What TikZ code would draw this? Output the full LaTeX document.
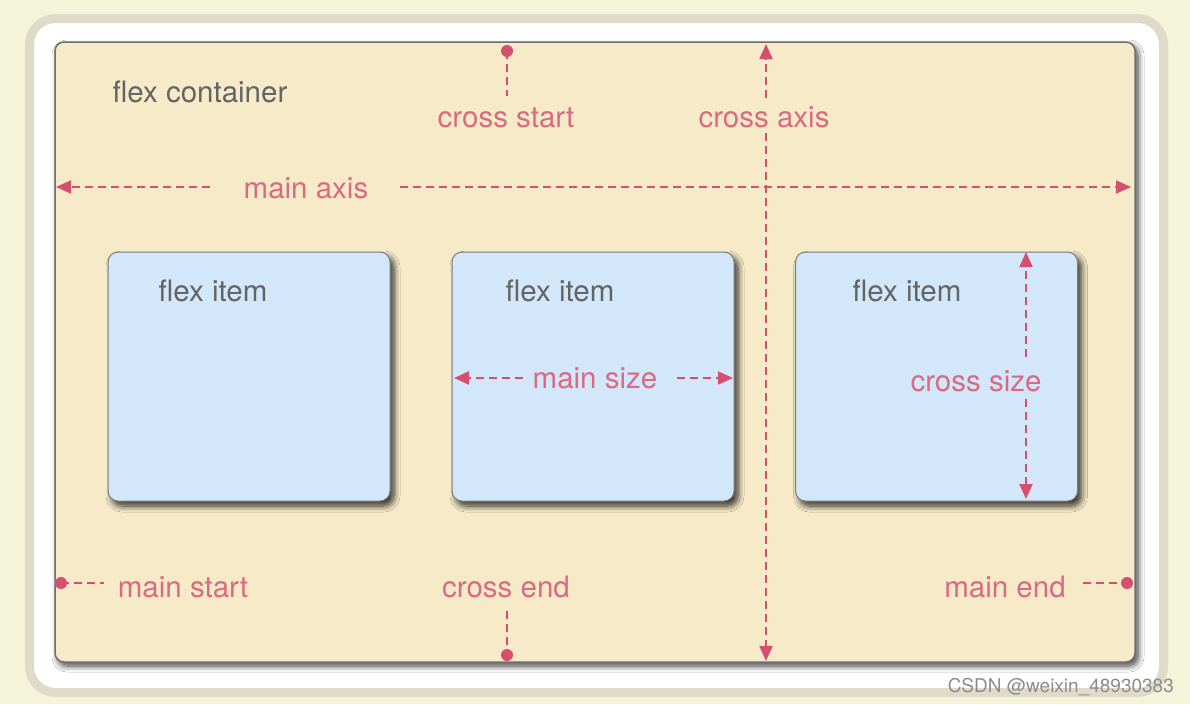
\documentclass[tikz,border=0pt]{standalone}
\usepackage{fontspec}
\setmainfont{TeX Gyre Heros}
\usetikzlibrary{arrows.meta,shadows.blur}
\definecolor{bgcol}{HTML}{F4F4DB}
\definecolor{framecol}{HTML}{DEDCC8}
\definecolor{contfill}{HTML}{F7EAC9}
\definecolor{contline}{HTML}{6E6E6E}
\definecolor{itemfill}{HTML}{D2E7FA}
\definecolor{itemline}{HTML}{7A7A7A}
\definecolor{pinkline}{HTML}{D4506E}
\definecolor{pinktext}{HTML}{DA6A80}
\definecolor{greytext}{HTML}{646464}
\definecolor{shadowcol}{HTML}{3A3A30}
\tikzset{
  frame/.style={draw=framecol, line width=9pt, fill=white, rounded corners=26pt,
    minimum width=1134pt, minimum height=674pt, inner sep=0pt},
  container/.style={draw=contline, line width=1.5pt, fill=contfill, rounded corners=9pt,
    minimum width=1080pt, minimum height=620pt, inner sep=0pt,
    blur shadow={shadow xshift=3pt, shadow yshift=-4pt, shadow blur radius=6pt, shadow opacity=75, shadow blur steps=8}},
  itembox/.style={draw=itemline, line width=1pt, fill=itemfill, rounded corners=10pt,
    minimum width=282pt, minimum height=249pt, inner sep=0pt,
    blur shadow={shadow xshift=4pt, shadow yshift=-5pt, shadow blur radius=6pt, shadow opacity=80, shadow blur steps=8}},
  lbl/.style={font=\fontsize{29.5}{34}\selectfont, text=pinktext, inner sep=0pt, anchor=base},
  glbl/.style={font=\fontsize{29.5}{34}\selectfont, text=greytext, inner sep=0pt, anchor=base},
  dline/.style={draw=pinkline, line width=2pt, dash pattern=on 8pt off 5pt},
  tip/.style={-{Triangle[length=15pt,width=13pt]}},
  dot/.style={circle, fill=pinkline, minimum size=12pt, inner sep=0pt},
}
\begin{document}
\begin{tikzpicture}[x=1pt,y=-1pt]
\useasboundingbox (0,0) rectangle (1190,704);
\fill[bgcol] (0,0) rectangle (1190,704);

\node[frame] (frame) at (596.5,355.5) {};
\node[container] (box) at (595,352) {};

\node[itembox] (item1) at (249,376.5) {};
\node[itembox] (item2) at (593,376.5) {};
\node[itembox] (item3) at (936.5,376.5) {};

\node[glbl] (fc) at (200,102) {flex container};
\node[glbl] (fi1) at (213,301) {flex item};
\node[glbl] (fi2) at (560,301) {flex item};
\node[glbl] (fi3) at (907,301) {flex item};

% cross start
\node[dot] (csdot) at (507,51) {};
\node[lbl] (cs) at (506,127) {cross start};
\coordinate (cs1) at (507,96);
\draw[dline] (csdot.center) -- (cs1);

% cross axis
\node[lbl] (ca) at (764,127) {cross axis};
\coordinate (ca1) at (766,98);
\coordinate (ca2) at (766,44);
\coordinate (ca3) at (766,133);
\coordinate (ca4) at (766,661);
\draw[dline,tip] (ca1) -- (ca2);
\draw[dline,tip] (ca3) -- (ca4);

% main axis
\node[lbl] (ma) at (306,198) {main axis};
\coordinate (ma1) at (210,187);
\coordinate (ma2) at (56,187);
\coordinate (ma3) at (400,187);
\coordinate (ma4) at (1131,187);
\draw[dline,tip] (ma1) -- (ma2);
\draw[dline,tip] (ma3) -- (ma4);

% main size
\node[lbl] (ms) at (595,388) {main size};
\coordinate (ms1) at (523,378);
\coordinate (ms2) at (454,378);
\coordinate (ms3) at (677,378);
\coordinate (ms4) at (733,378);
\draw[dline,tip] (ms1) -- (ms2);
\draw[dline,tip] (ms3) -- (ms4);

% cross size
\node[lbl] (cz) at (976,391) {cross size};
\coordinate (cz1) at (1026,357);
\coordinate (cz2) at (1026,252);
\coordinate (cz3) at (1026,399);
\coordinate (cz4) at (1026,499);
\draw[dline,tip] (cz1) -- (cz2);
\draw[dline,tip] (cz3) -- (cz4);

% main start
\node[dot] (msdot) at (61,583) {};
\node[lbl] (mst) at (183,597) {main start};
\coordinate (mst1) at (104,583);
\draw[dline] (msdot.center) -- (mst1);

% cross end
\node[lbl] (ce) at (506,597) {cross end};
\node[dot] (cedot) at (507,655) {};
\coordinate (ce1) at (507,611);
\draw[dline] (ce1) -- (cedot.center);

% main end
\node[lbl] (me) at (1005,597) {main end};
\node[dot] (medot) at (1127,583) {};
\coordinate (me1) at (1083,583);
\draw[dline] (me1) -- (medot.center);

% watermark
\node[font=\fontsize{19}{22}\selectfont, text=black!45, inner sep=0pt, anchor=base east] (wm) at (1174,692) {CSDN @weixin\_48930383};
\end{tikzpicture}
\end{document}
